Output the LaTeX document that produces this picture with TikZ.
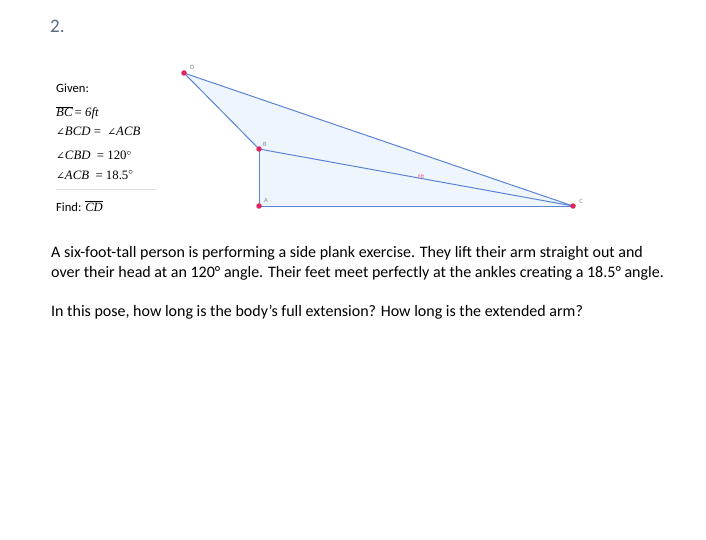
\documentclass[tikz,border=0pt]{standalone}
\usepackage{fontspec}
\setmainfont{Carlito}
\newfontfamily\tms{Liberation Serif}
\newfontfamily\djv{DejaVu Serif}
\definecolor{edge}{HTML}{5B84D6}
\definecolor{pt}{HTML}{E0245E}
\definecolor{fillb}{HTML}{EEF5FD}
\definecolor{lbl}{HTML}{888888}
\definecolor{numc}{HTML}{5A6A7E}
\newcommand{\ang}{{\djv\fontsize{10.5}{10}\selectfont ∠}}
\newcommand{\ovl}[1]{$\overline{\mbox{\tms\itshape #1}}$}
\tikzset{
  vtx/.style={circle,fill=pt,inner sep=0pt,minimum size=5.5pt},
  vlbl/.style={font=\fontsize{6.5}{6}\selectfont,text=lbl,inner sep=0pt},
  seg/.style={draw=edge,line width=1pt},
  body/.style={font=\fontsize{16}{18}\selectfont,anchor=base west,inner sep=0pt},
  given/.style={font=\fontsize{12.6}{14}\selectfont,anchor=base west,inner sep=0pt},
  gmath/.style={font=\tms\itshape\fontsize{12.8}{14}\selectfont,anchor=base west,inner sep=0pt}
}
\begin{document}
\begin{tikzpicture}[x=1pt,y=-1pt]
\useasboundingbox[fill=white] (0,0) rectangle (706,540);
% number
\node[font=\fontsize{19}{20}\selectfont,text=numc,anchor=base west,inner sep=0pt] (num) at (50,33) {2.};
% given block
\node[given] (giv) at (56,93) {Given:};
\node[gmath] (g1) at (56,117) {$\overline{\mbox{\tms\itshape BC}}$\,{\upshape =} 6ft};
\node[gmath] (g2) at (56,136) {\ang BCD {\upshape =} \ \ang ACB};
\node[gmath] (g3) at (56,160) {\ang CBD \ {\upshape = 120$^{\circ}$}};
\node[gmath] (g4) at (56,179) {\ang ACB \ {\upshape = 18.5$^{\circ}$}};
\coordinate (s1) at (56,189);
\coordinate (s2) at (156,189);
\draw[gray!25,line width=0.6pt] (s1) -- (s2);
\node[given] (find) at (56,211) {Find: \ovl{CD}};
% triangle
\coordinate (D) at (184,73);
\coordinate (B) at (259,149);
\coordinate (A) at (259,206);
\coordinate (C) at (573,206);
\fill[fillb] (D) -- (C) -- (A) -- (B) -- cycle;
\draw[seg] (D) -- (C);
\draw[seg] (D) -- (B);
\draw[seg] (B) -- (C);
\draw[seg] (B) -- (A);
\draw[seg] (A) -- (C);
\node[vtx] (nD) at (D) {};
\node[vtx] (nB) at (B) {};
\node[vtx] (nA) at (A) {};
\node[vtx] (nC) at (C) {};
\node[vlbl] (lD) at (192,67) {D};
\node[vlbl] (lB) at (265,144) {B};
\node[vlbl] (lA) at (266,200) {A};
\node[vlbl] (lC) at (581,201) {C};
\node[font=\fontsize{6}{6}\selectfont,text=pt!70,inner sep=0pt] (six) at (421,176) {6ft};
% body text
\node[body] (t1) at (51,257) {A six-foot-tall person is performing a side plank exercise. They lift their arm straight out and};
\node[body] (t2) at (51,277) {over their head at an 120° angle. Their feet meet perfectly at the ankles creating a 18.5° angle.};
\node[body] (t3) at (51,316) {In this pose, how long is the body’s full extension? How long is the extended arm?};
\end{tikzpicture}
\end{document}
